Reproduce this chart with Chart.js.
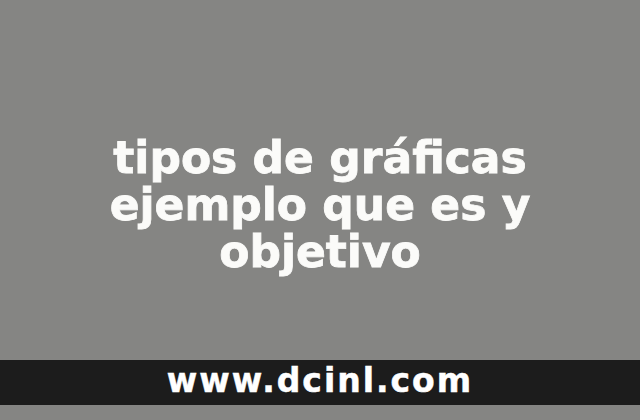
<!DOCTYPE html>
<html>
<head>
<meta charset="utf-8">
<script src="https://cdn.jsdelivr.net/npm/chart.js@4/dist/chart.umd.min.js"></script>
<style>
  html, body { margin: 0; padding: 0; background: #858583; }
  #wrap { position: relative; width: 640px; height: 420px; overflow: hidden; }
  #bg { position: absolute; left: 0; top: 0; }
  #title {
    position: absolute; left: 0; top: 134px; width: 640px;
    text-align: center; color: #fbfbf9;
    font-family: "DejaVu Sans", sans-serif; font-weight: bold;
    font-size: 44px; line-height: 47px;
    -webkit-text-stroke: 0.8px #fbfbf9;
  }
  #footer {
    position: absolute; left: 0; top: 360px; width: 640px; height: 45px;
    background: #1c1c1c; color: #ffffff; text-align: center;
    font-family: "DejaVu Sans", sans-serif; font-weight: bold;
    font-size: 33px; line-height: 42px; letter-spacing: 2px;
    -webkit-text-stroke: 0.5px #ffffff;
  }
</style>
</head>
<body>
<div id="wrap">
  <canvas id="bg" width="640" height="420"></canvas>
  <div id="title"></div>
  <div id="footer"></div>
</div>
<script>
// textos de la imagen
const titleLines = ['tipos de gráficas', 'ejemplo que es y', 'objetivo'];
const footerText = 'www.dcinl.com';

document.getElementById('title').innerHTML = titleLines.join('<br>');
document.getElementById('footer').textContent = footerText;

// fondo gris dibujado por Chart.js (sin datos, sin ejes)
const bgPlugin = {
  id: 'bgFill',
  beforeDraw(chart) {
    const ctx = chart.ctx;
    ctx.save();
    ctx.fillStyle = '#858583';
    ctx.fillRect(0, 0, chart.width, chart.height);
    ctx.restore();
  }
};

new Chart(document.getElementById('bg'), {
  type: 'bar',
  data: { labels: [], datasets: [] },
  options: {
    responsive: false,
    animation: false,
    plugins: { legend: { display: false }, tooltip: { enabled: false } },
    scales: { x: { display: false }, y: { display: false } }
  },
  plugins: [bgPlugin]
});
</script>
</body>
</html>
